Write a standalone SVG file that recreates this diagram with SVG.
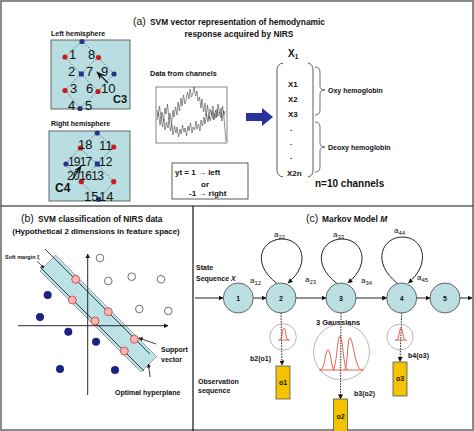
<svg xmlns="http://www.w3.org/2000/svg" width="474" height="431" viewBox="0 0 474 431">
<style>
text{font-family:"Liberation Sans",Arial,sans-serif;fill:#111}
.b{font-weight:bold}
.num{font-size:13px}
.num2{font-size:12px}
.dash{stroke:#333;stroke-width:0.6;stroke-dasharray:1.5 1.5;fill:none}
.blue{fill:#283090}
.red{fill:#cc1a1a}
.state{fill:#bcdfe2;stroke:#444;stroke-width:0.8}
.tr{stroke:#222;stroke-width:1;fill:none;marker-end:url(#ah)}
.dot{stroke:#222;stroke-width:1;stroke-dasharray:1.5 1.2;fill:none;marker-end:url(#ah)}
.gc{fill:none;stroke:#a89090;stroke-width:0.7}
.gs{fill:none;stroke:#e03a2a;stroke-width:0.8}
.obs{fill:#f3c300;stroke:#555;stroke-width:0.8}
.ob{fill:#fff;stroke:#333;stroke-width:0.7}
.bf{fill:#1c2380}
.sv{fill:url(#hatch);stroke:#d02020;stroke-width:0.7}
</style>
<defs>
<marker id="ah" viewBox="0 0 10 10" refX="9" refY="5" markerWidth="5" markerHeight="5" orient="auto"><path d="M0,0 L10,5 L0,10 z" fill="#111"/></marker>
<marker id="ahb" viewBox="0 0 10 10" refX="9" refY="5" markerWidth="7" markerHeight="7" orient="auto"><path d="M0,1 L10,5 L0,9 L3,5 z" fill="#111"/></marker>
<pattern id="hatch" width="2" height="2" patternUnits="userSpaceOnUse"><rect width="2" height="2" fill="#ec7070"/><path d="M0,0 L2,2 M2,0 L0,2" stroke="#fff" stroke-width="0.5"/></pattern>
</defs>

<!-- frame -->
<rect x="1" y="1" width="472" height="429" fill="#fff" stroke="#8a8a8a" stroke-width="2"/>
<line x1="1" y1="206" x2="473" y2="206" stroke="#111" stroke-width="1.2"/>
<line x1="193" y1="206" x2="193" y2="431" stroke="#111" stroke-width="1.2"/>

<!-- panel (a) -->
<g id="title-a">
<text x="133" y="25" font-size="10.5">(a)</text>
<text x="150" y="25" font-size="8.4" class="b">SVM vector representation of hemodynamic</text>
<text x="239" y="37" font-size="8.4" class="b" text-anchor="middle">response acquired by NIRS</text>
</g>

<g id="left-hemisphere">
<text x="51" y="36" font-size="7" class="b">Left hemisphere</text>
<rect x="51" y="40" width="79" height="69" fill="#b8dee1" stroke="#444" stroke-width="0.8"/>
<path class="dash" d="M82,41 L65,57 L81,74 L65,90 L80,108 L98,91 L114,74 L98,57 L82,41 M98,57 L81,74 L98,91"/>
<circle class="blue" cx="82" cy="41.5" r="2.6"/>
<circle class="red" cx="65" cy="57" r="2.6"/>
<circle class="red" cx="98.5" cy="57.5" r="2.6"/>
<rect class="blue" x="78.8" y="71.5" width="5" height="5"/>
<circle class="blue" cx="114" cy="74" r="2.6"/>
<circle class="red" cx="65" cy="90.5" r="2.6"/>
<circle class="red" cx="98" cy="91.5" r="2.6"/>
<circle class="blue" cx="80" cy="108.5" r="2.6"/>
<text class="num" x="69" y="59">1</text>
<text class="num" x="88" y="59">8</text>
<text class="num" x="68" y="76">2</text>
<text class="num" x="86" y="76">7</text>
<text class="num" x="101" y="76">9</text>
<text class="num" x="70" y="93">3</text>
<text class="num" x="86" y="93">6</text>
<text class="num" x="101" y="93">10</text>
<text class="num" x="68" y="110">4</text>
<text class="num" x="85" y="110">5</text>
<text x="113" y="103" font-size="11" class="b">C3</text>
<line x1="108" y1="83" x2="97" y2="72" stroke="#111" stroke-width="1.2" marker-end="url(#ahb)"/>
</g>

<g id="right-hemisphere">
<text x="51" y="126" font-size="7" class="b">Right hemisphere</text>
<rect x="49" y="131" width="81" height="70" fill="#b8dee1" stroke="#444" stroke-width="0.8"/>
<path class="dash" d="M97,133 L80,148 L66,164 L81,182 L99,199 L114,182 L97,164 L114,147 L97,133 M80,148 L97,164 L81,182"/>
<circle class="blue" cx="97.3" cy="133" r="2.6"/>
<circle class="red" cx="80.3" cy="148" r="2.6"/>
<circle class="red" cx="113.7" cy="147" r="2.6"/>
<circle class="blue" cx="66" cy="164" r="2.6"/>
<rect class="blue" x="94.8" y="161.5" width="5" height="5"/>
<circle class="red" cx="81.3" cy="181.7" r="2.6"/>
<circle class="red" cx="113.7" cy="181.7" r="2.6"/>
<circle class="blue" cx="98.7" cy="199.3" r="2.6"/>
<text class="num" x="78" y="149">18</text>
<text class="num" x="99" y="150">11</text>
<text class="num2" x="68" y="165.5" letter-spacing="-0.8">1917</text>
<text class="num2" x="99" y="165.5">12</text>
<text class="num2" x="67" y="180" letter-spacing="-0.6">201613</text>
<text x="55" y="192" font-size="12" class="b">C4</text>
<text class="num" x="84" y="201">15</text>
<text class="num" x="99" y="201">14</text>
<line x1="72" y1="180" x2="81" y2="166" stroke="#111" stroke-width="1.2" marker-end="url(#ahb)"/>
</g>

<g id="data-channels">
<text x="150" y="76" font-size="7.2" class="b">Data from channels</text>
<rect x="156" y="87" width="71" height="56" fill="#fff" stroke="#666" stroke-width="0.8"/>
<polyline fill="none" stroke="#444" stroke-width="0.6" points="157,110 158,116 159.5,106 161,118 162,112 163.5,121 165,108 166,114 167.5,104 169,119 170,113 171.5,124 173,110 174,117 175.5,107 177,115 178,102 179.5,111 181,98 182,106 183.5,95 185,104 186,100 187.5,92 189,99 190,89 191.5,97 193,93 194,87 195.5,96 197,91 198,101 199.5,97 201,108 202,99 203.5,112 205,103 206,116 207.5,105 209,119 210,109 211.5,115 213,106 214,120 215.5,110 217,117 218,104 219.5,113 221,108 222,121 223.5,111 225,130 226,141"/>
<polyline fill="none" stroke="#444" stroke-width="0.6" points="157,120 158.5,113 160,125 161,117 162.5,127 164,119 165,130 166.5,122 168,128 169,118 170.5,131 172,124 173,135 174.5,126 176,133 177,127 178.5,137 180,129 181,134 182.5,125 184,132 185,128 186.5,136 188,126 189,131 190.5,123 192,133 193,127 194.5,130 196,121 197,129 198.5,124 200,131 201,120 202.5,126 204,117 205,124 206.5,114 208,122 209,116 210.5,121 212,111 213,119 214.5,113 216,118 217,109 218.5,116 220,112 221,118 222.5,106 224,115 225,111"/>
</g>

<g id="label-box">
<rect x="172" y="163" width="76" height="36" fill="#fff" stroke="#333" stroke-width="0.8"/>
<text x="175" y="175" font-size="8" class="b">yt = 1 → left</text>
<text x="205" y="187" font-size="8" class="b" text-anchor="middle">or</text>
<text x="189" y="196" font-size="8" class="b">-1  → right</text>
</g>

<g id="big-arrow">
<polygon points="246,113 262,113 262,108 273,117 262,126 262,121 246,121" fill="#28329a"/>
</g>

<g id="vector">
<text x="288" y="57" font-size="10" class="b">X<tspan font-size="6.5" dy="2">1</tspan></text>
<path d="M283,63 Q277,64 277,70 L277,170 Q277,176 283,177" fill="none" stroke="#333" stroke-width="0.8"/>
<path d="M308,63 Q313,64 313,70 L313,170 Q313,176 308,177" fill="none" stroke="#333" stroke-width="0.8"/>
<text x="288" y="87" font-size="8" class="b">X1</text>
<text x="288" y="102" font-size="8" class="b">X2</text>
<text x="288" y="117" font-size="8" class="b">X3</text>
<text x="290" y="131" font-size="8" class="b">.</text>
<text x="290" y="145" font-size="8" class="b">.</text>
<text x="290" y="159" font-size="8" class="b">.</text>
<text x="287" y="176" font-size="8" class="b">X2n</text>
<path d="M315,67 Q320,67 320,72 L320,86 Q320,90 325,90 Q320,90 320,94 L320,110 Q320,115 315,115" fill="none" stroke="#333" stroke-width="0.7"/>
<path d="M315,122 Q320,122 320,127 L320,143 Q320,147 325,147 Q320,147 320,151 L320,167 Q320,172 315,172" fill="none" stroke="#333" stroke-width="0.7"/>
<text x="328" y="93" font-size="7" class="b">Oxy hemoglobin</text>
<text x="328" y="150" font-size="7" class="b">Deoxy hemoglobin</text>
<text x="315" y="187" font-size="10" class="b">n=10 channels</text>
</g>

<!-- panel (b) -->
<g id="title-b">
<text x="21" y="222" font-size="10.5">(b)</text>
<text x="38" y="222" font-size="8.3" class="b">SVM classification of NIRS data</text>
<text x="96" y="234" font-size="7.9" class="b" text-anchor="middle">(Hypothetical 2 dimensions in feature space)</text>
</g>

<g id="svm-plot">
<polygon points="55.5,255 40,271 141,372 156.5,356.5" fill="#bde2e6" stroke="#555" stroke-width="0.5"/>
<line x1="45" y1="249" x2="150" y2="354" stroke="#111" stroke-width="0.8"/>
<line x1="40" y1="267" x2="144" y2="371" stroke="#111" stroke-width="0.8"/>
<line x1="87.7" y1="395" x2="87.7" y2="254" stroke="#111" stroke-width="0.9" marker-end="url(#ah)"/>
<line x1="18" y1="325.7" x2="168" y2="325.7" stroke="#111" stroke-width="0.9" marker-end="url(#ah)"/>
<circle class="ob" cx="100" cy="258" r="3.8"/>
<circle class="ob" cx="108.3" cy="281" r="3.8"/>
<circle class="ob" cx="131.7" cy="276.7" r="3.8"/>
<circle class="ob" cx="161" cy="279.3" r="3.8"/>
<circle class="ob" cx="139.3" cy="309" r="3.8"/>
<circle class="ob" cx="168.3" cy="311" r="3.8"/>
<circle class="bf" cx="47.7" cy="295" r="4"/>
<circle class="bf" cx="40" cy="317" r="4"/>
<circle class="bf" cx="68.3" cy="331.7" r="4"/>
<circle class="bf" cx="96" cy="341.7" r="4"/>
<circle class="bf" cx="60" cy="369" r="4"/>
<circle class="bf" cx="115" cy="370" r="4"/>
<circle class="sv" cx="75.7" cy="279.3" r="4"/>
<circle class="sv" cx="72.3" cy="300" r="4"/>
<circle class="sv" cx="108.3" cy="311.7" r="4"/>
<circle class="sv" cx="95" cy="321" r="4"/>
<circle class="sv" cx="134.3" cy="339.3" r="4"/>
<circle class="sv" cx="124.3" cy="351" r="4"/>
<text x="5" y="259" font-size="5.5" class="b">Soft margin ξ</text>
<line x1="37" y1="261" x2="44" y2="268" stroke="#111" stroke-width="0.7" marker-end="url(#ah)"/>
<line x1="156" y1="344" x2="139" y2="338" stroke="#111" stroke-width="0.8" marker-end="url(#ah)"/>
<line x1="150" y1="377" x2="148.5" y2="364" stroke="#111" stroke-width="0.8" marker-end="url(#ah)"/>
<text x="161" y="352" font-size="7" class="b">Support</text>
<text x="161" y="362" font-size="7" class="b">vector</text>
<text x="115" y="395" font-size="7" class="b">Optimal hyperplane</text>
</g>

<!-- panel (c) -->
<g id="title-c">
<text x="306" y="222" font-size="10.5">(c)</text>
<text x="322" y="222" font-size="8.4" class="b">Markov Model <tspan font-style="italic">M</tspan></text>
</g>
<g id="labels-c">
<text x="196" y="270" font-size="7" class="b">State</text>
<text x="196" y="281" font-size="7" class="b">Sequence <tspan font-style="italic">X</tspan></text>
<text x="198" y="384" font-size="7" class="b">Observation</text>
<text x="198" y="393" font-size="7" class="b">sequence</text>
</g>

<g id="connectors">
<line class="tr" x1="195" y1="298" x2="223" y2="298"/>
<line class="tr" x1="253.5" y1="298" x2="266" y2="298"/>
<line class="tr" x1="296" y1="298" x2="326" y2="298"/>
<line class="tr" x1="356" y1="298" x2="386.7" y2="298"/>
<line class="tr" x1="416.7" y1="298" x2="430" y2="298"/>
<line class="tr" x1="460" y1="298" x2="472" y2="298"/>
<path class="tr" d="M277,283.5 C250,263 262,239 282,239 C302,239 312,263 288,283"/>
<path class="tr" d="M337,283.5 C310,263 322,239 342,239 C362,239 372,263 348,283"/>
<path class="tr" d="M397.5,283.5 C370.5,262 382.5,237 402.5,237 C422.5,237 432.5,262 408.5,283"/>
<line class="dot" x1="281" y1="313" x2="282" y2="365"/>
<line class="dot" x1="341" y1="313" x2="340.5" y2="399"/>
<line class="dot" x1="401.7" y1="313" x2="400" y2="361.5"/>
</g>

<g id="edge-labels" font-size="8">
<text x="274" y="237">a<tspan font-size="6" dy="2">22</tspan></text>
<text x="333" y="237">a<tspan font-size="6" dy="2">33</tspan></text>
<text x="394" y="233">a<tspan font-size="6" dy="2">44</tspan></text>
<text x="250" y="283">a<tspan font-size="6" dy="2">12</tspan></text>
<text x="305" y="282">a<tspan font-size="6" dy="2">23</tspan></text>
<text x="361" y="283">a<tspan font-size="6" dy="2">34</tspan></text>
<text x="417" y="280">a<tspan font-size="6" dy="2">45</tspan></text>
</g>

<g id="state-1"><circle class="state" cx="238.3" cy="298" r="15"/><text x="238.3" y="300.5" font-size="7" class="b" text-anchor="middle">1</text></g>
<g id="state-2"><circle class="state" cx="281" cy="298" r="15"/><text x="281" y="300.5" font-size="7" class="b" text-anchor="middle">2</text></g>
<g id="state-3"><circle class="state" cx="341" cy="298" r="15"/><text x="341" y="300.5" font-size="7" class="b" text-anchor="middle">3</text></g>
<g id="state-4"><circle class="state" cx="401.7" cy="298" r="15"/><text x="401.7" y="300.5" font-size="7" class="b" text-anchor="middle">4</text></g>
<g id="state-5"><circle class="state" cx="445" cy="298" r="15"/><text x="445" y="300.5" font-size="7" class="b" text-anchor="middle">5</text></g>

<g id="gauss-1">
<circle class="gc" cx="283" cy="337" r="13.3"/>
<path class="gs" d="M278,340 L290,340 M279.5,340 C282.5,340 282,328 284,328 C286,328 285.5,340 288.5,340"/>
</g>
<g id="gauss-3">
<text x="316" y="325" font-size="7.5" class="b">3 Gaussians</text>
<circle class="gc" cx="341.5" cy="352" r="28"/>
<path class="gs" d="M319,370 L364,370 M320,370 C325,370 325,350 328,350 C331,350 331,370 335,370 M332,370 C337,370 337,336 340,336 C343,336 343,370 348,370 M344,370 C348,370 347,338 350,338 C353,338 355,370 362,370"/>
</g>
<g id="gauss-4">
<circle class="gc" cx="400" cy="337" r="13"/>
<path class="gs" d="M395,340 L407,340 M396.5,340 C399.5,340 399,328 401,328 C403,328 402.5,340 405.5,340"/>
</g>

<g id="obs-labels">
<text x="250" y="361" font-size="7" class="b">b2(o1)</text>
<text x="354" y="396" font-size="7" class="b">b3(o2)</text>
<text x="408" y="358" font-size="7" class="b">b4(o3)</text>
</g>
<g id="o1"><rect class="obs" x="276" y="366" width="14" height="33"/><text x="283" y="385" font-size="7" class="b" text-anchor="middle">o1</text></g>
<g id="o2"><rect class="obs" x="333.5" y="399" width="14" height="34"/><text x="340.5" y="419" font-size="7" class="b" text-anchor="middle">o2</text></g>
<g id="o3"><rect class="obs" x="393" y="362" width="14" height="34"/><text x="400" y="381" font-size="7" class="b" text-anchor="middle">o3</text></g>
</svg>
